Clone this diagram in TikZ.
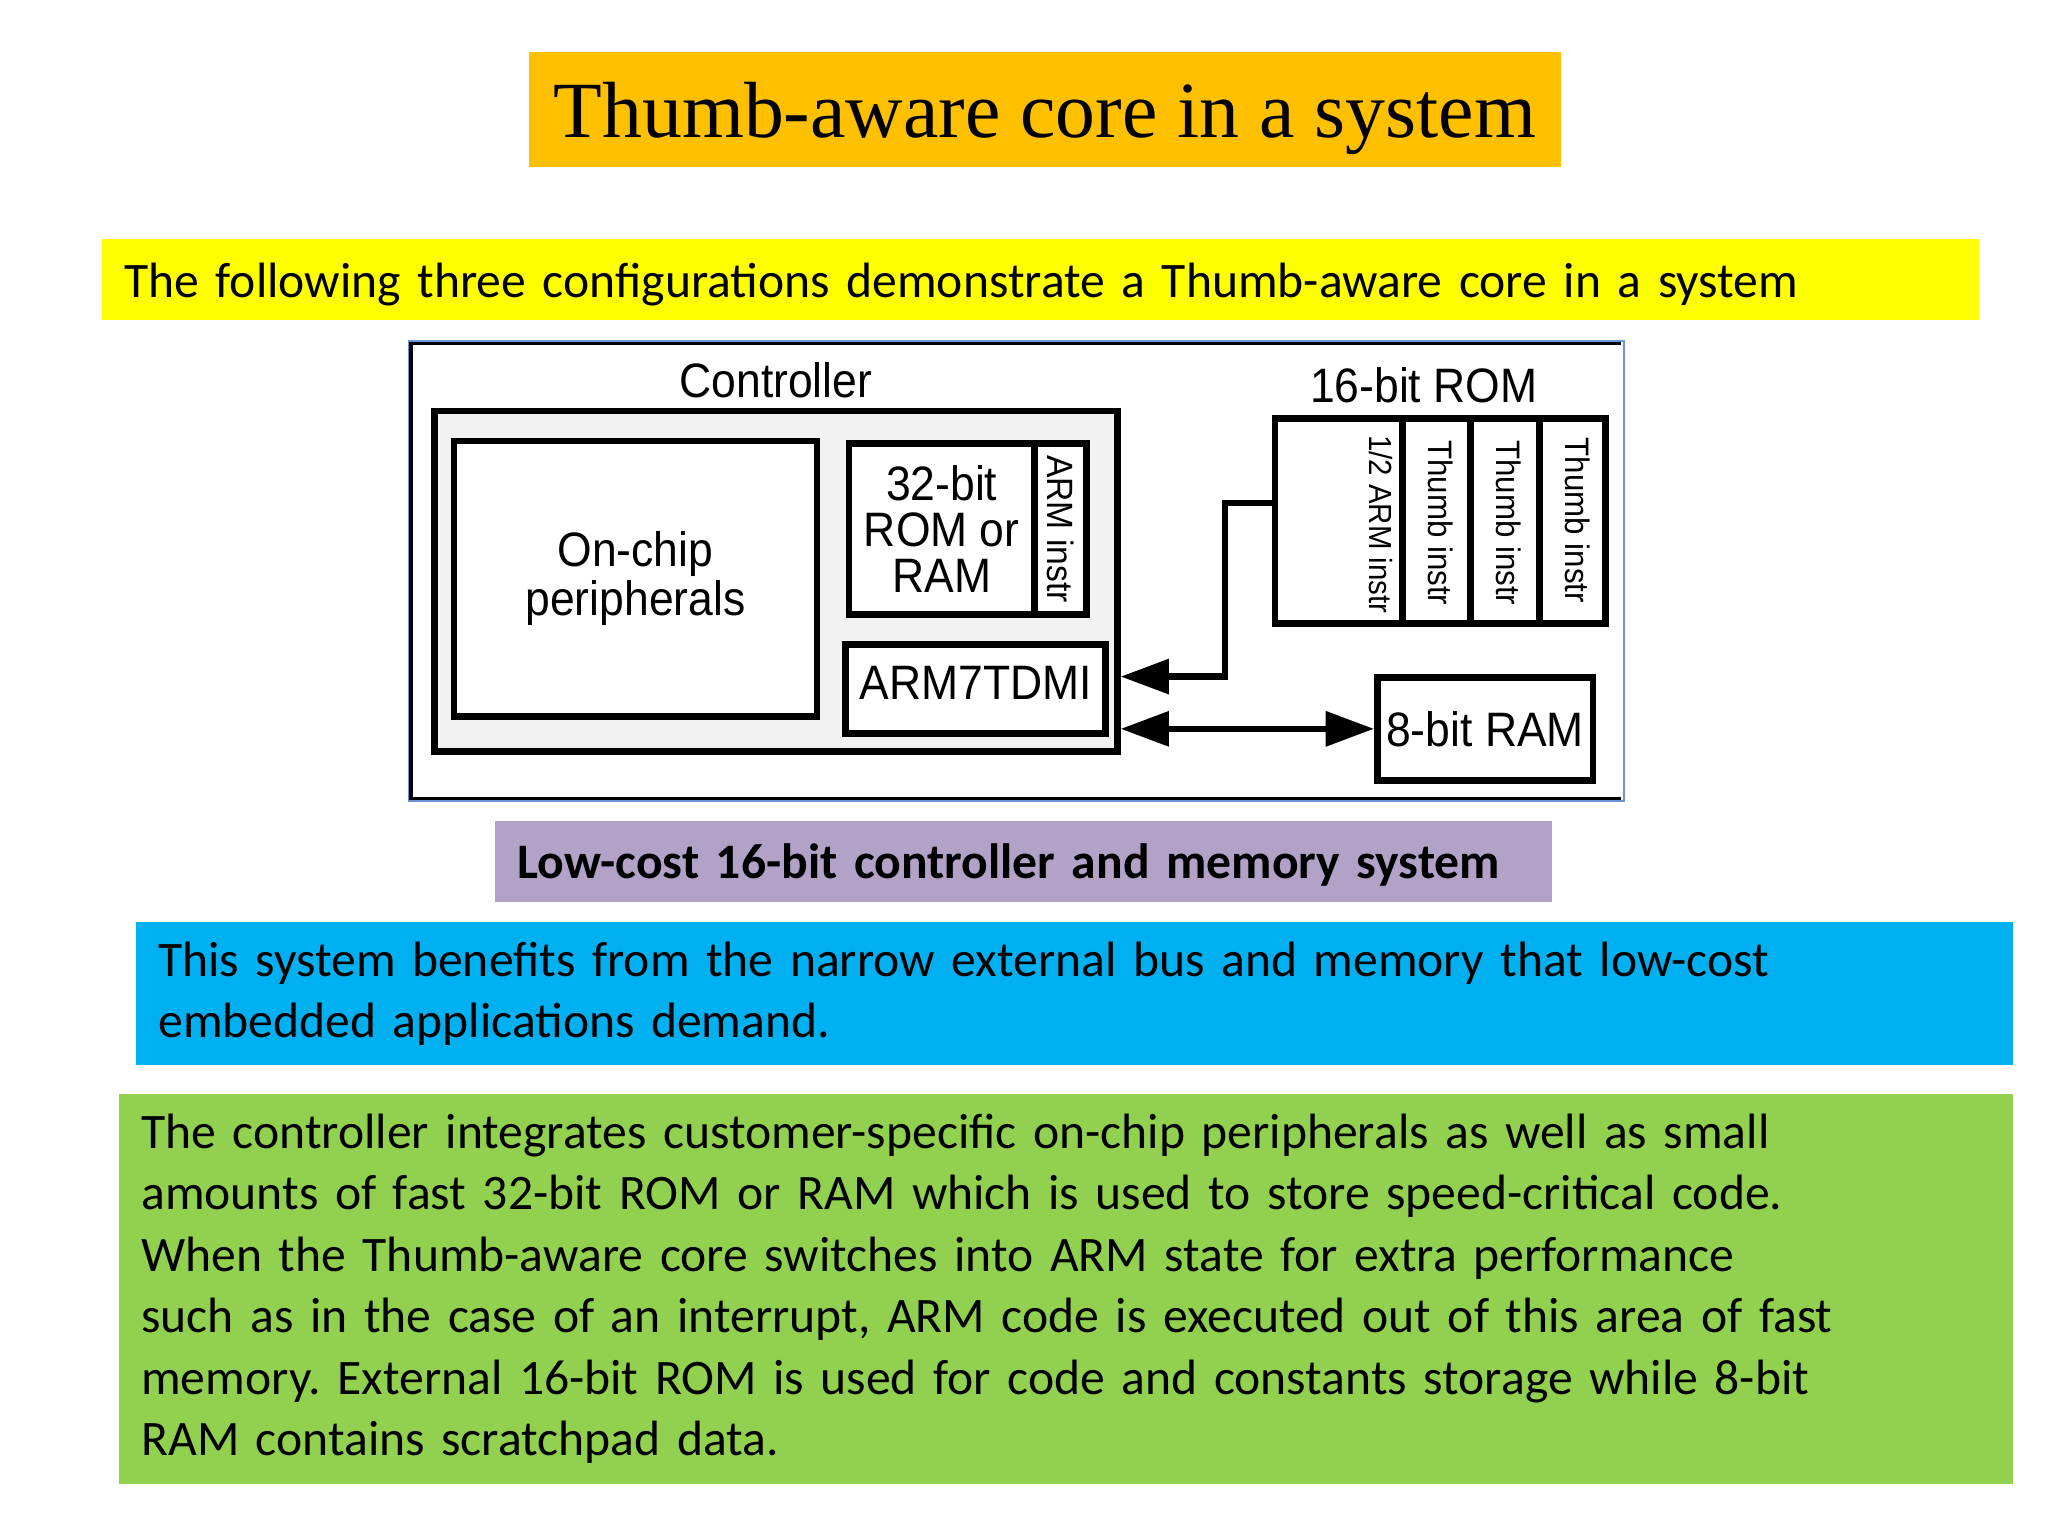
\documentclass[tikz,border=0pt]{standalone}
\usepackage{fontspec}
\setmainfont{Carlito}
\newfontfamily\arialfont{Liberation Sans}[FakeStretch=0.92]
\newfontfamily\timesfont{Liberation Serif}
\usetikzlibrary{positioning,arrows.meta}
\frenchspacing

\definecolor{titlegold}{HTML}{FFC000}
\definecolor{introyellow}{HTML}{FFFF00}
\definecolor{capviolet}{HTML}{B3A2C7}
\definecolor{notecyan}{HTML}{00B0F0}
\definecolor{notegreen}{HTML}{92D050}
\definecolor{frameblue}{HTML}{6A95D6}
\definecolor{ctrlgray}{HTML}{F2F2F2}

\tikzset{
  blk/.style={shape=rectangle, draw, line width=5pt, fill=white, align=center, inner sep=0pt,
    font=\arialfont\fontsize{37}{35}\selectfont},
  blklabel/.style={inner sep=0pt, font=\arialfont\fontsize{37}{35}\selectfont},
  vlabel/.style={rotate=-90, anchor=west, inner sep=0pt, font=\arialfont\fontsize{26}{26}\selectfont},
  band/.style={shape=rectangle, anchor=north west, inner xsep=17pt, inner ysep=0pt, align=left,
    font=\fontsize{38}{47}\selectfont},
  bus/.style={line width=5pt},
}

\begin{document}
\begin{tikzpicture}[x=1pt, y=-1pt, >={Triangle[length=37pt,width=26pt]}]
  \fill[white] (0,0) rectangle (1568,1176);
  \useasboundingbox (0,0) rectangle (1568,1176);

  % title and intro
  \node[fill=titlegold, minimum width=790pt, minimum height=88pt, inner sep=0pt, text depth=0pt,
        font=\timesfont\fontsize{61}{72}\selectfont] (title) at (800,84) {Thumb-aware core in a system};
  \node[band, fill=introyellow, text width=1403pt, minimum height=62pt, text depth=0pt] (intro) at (78,183)
    {The following three configurations demonstrate a Thumb-aware core in a system};

  % diagram frame
  \node[draw=frameblue, line width=1.5pt, fill=white, minimum width=930pt, minimum height=352pt,
        inner sep=0pt] (frame) at (778,437) {};
  \draw[line width=2.5pt] ([shift={(-3pt,-2.5pt)}]frame.north east) -- ([shift={(2.5pt,-2.5pt)}]frame.north west)
    -- ([shift={(2.5pt,2.5pt)}]frame.south west) -- ([shift={(-3pt,2.5pt)}]frame.south east);

  % controller
  \node[blk, fill=ctrlgray, minimum width=523pt, minimum height=261pt] (ctrl) at (594,445) {};
  \node[blklabel, above=7pt of ctrl] (ctrllbl) {Controller};
  \node[blk, minimum width=278pt, minimum height=211pt, font=\arialfont\fontsize{37}{37}\selectfont]
    (periph) at (486.5,443) {On-chip\\peripherals};
  \node[blk, minimum width=142pt, minimum height=131pt] (mem) at (721,405) {32-bit\\ROM or\\RAM};
  \node[blk, minimum width=40pt, minimum height=131pt, right=-5pt of mem] (armi) {};
  \node[vlabel, anchor=center, font=\arialfont\fontsize{28}{28}\selectfont] (armilbl) at (armi.center) {ARM instr};
  \node[blk, minimum width=199pt, minimum height=68pt, text depth=9pt] (arm) at (747,527.5) {ARM7TDMI};

  % external memories
  \node[blk, minimum width=97.5pt, minimum height=157pt] (romA) at (1025,399) {};
  \node[blk, minimum width=52pt, minimum height=157pt, right=-5pt of romA] (romB) {};
  \node[blk, minimum width=53pt, minimum height=157pt, right=-5pt of romB] (romC) {};
  \node[blk, minimum width=50.5pt, minimum height=157pt, right=-5pt of romC] (romD) {};
  \node[blklabel, anchor=base] (romlbl) at (1090,308) {16-bit ROM};
  \node[vlabel, font=\arialfont\fontsize{24.5}{25}\selectfont] (romAlbl) at (1057,333) {1/2 ARM instr};
  \node[vlabel] (romBlbl) at (1103,337) {Thumb instr};
  \node[vlabel] (romClbl) at (1155,337) {Thumb instr};
  \node[vlabel] (romDlbl) at (1208,335) {Thumb instr};
  \node[blk, minimum width=165pt, minimum height=79pt] (ram) at (1137,558) {8-bit RAM};

  % buses
  \coordinate (romtap) at (romA.west |- 0,385);
  \coordinate (romin) at (ctrl.east |- 0,518);
  \coordinate (ramin) at (ctrl.east |- ram.west);
  \draw[bus, ->] (romtap) -- ++(-36,0) |- (romin);
  \draw[bus, <->] (ramin) -- (ram.west);

  % caption and notes
  \node[band, fill=capviolet, text width=775pt, minimum height=62pt, text depth=0pt,
        font=\bfseries\fontsize{38}{47}\selectfont] (caption) at (379,628)
    {Low-cost 16-bit controller and memory system};
  \node[band, fill=notecyan, text width=1403pt, minimum height=109pt] (benefit) at (104,706)
    {This system benefits from the narrow external bus and memory that low-cost\\
     embedded applications demand.};
  \node[band, fill=notegreen, text width=1416pt, minimum height=299pt] (detail) at (91,837)
    {The controller integrates customer-specific on-chip peripherals as well as small\\
     amounts of fast 32-bit ROM or RAM which is used to store speed-critical code.\\
     When the Thumb-aware core switches into ARM state for extra performance\\
     such as in the case of an interrupt, ARM code is executed out of this area of fast\\
     memory. External 16-bit ROM is used for code and constants storage while 8-bit\\
     RAM contains scratchpad data.};
\end{tikzpicture}
\end{document}
